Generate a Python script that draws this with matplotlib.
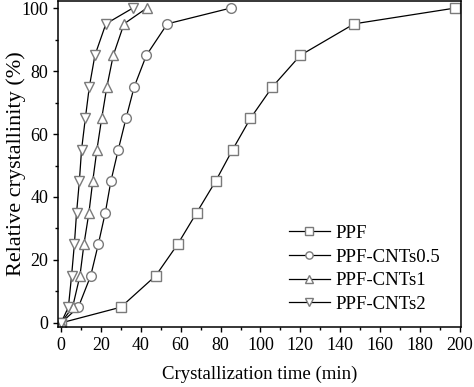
import matplotlib
matplotlib.use('Agg')
import matplotlib.pyplot as plt
from matplotlib.ticker import MultipleLocator

# crystallization data
ppf_t = [0, 30, 47.5, 58.5, 68, 77.5, 86, 95, 106, 120, 147, 197.5]
ppf_x = [0, 5, 15, 25, 35, 45, 55, 65, 75, 85, 95, 100]

cnt05_t = [0, 8.7, 14.9, 18.7, 22.2, 25, 28.7, 32.6, 36.7, 42.8, 53.3, 85]
cnt05_x = [0, 5, 15, 25, 35, 45, 55, 65, 75, 85, 95, 100]

cnt1_t = [0, 5.8, 9.5, 11.5, 14, 15.9, 18, 20.4, 23, 26.2, 31.6, 43]
cnt1_x = [0, 5, 15, 25, 35, 45, 55, 65, 75, 85, 95, 100]

cnt2_t = [0, 3.7, 5.3, 6.7, 7.8, 9.2, 10.3, 12.2, 14.2, 17, 22.5, 36]
cnt2_x = [0, 5, 15, 25, 35, 45, 55, 65, 75, 85, 95, 100]

plt.rcParams['font.family'] = 'Liberation Serif'

fig = plt.figure(figsize=(4.74, 3.87), dpi=100)
ax = fig.add_axes([0.1224, 0.155, 0.850, 0.842])

series = [
    (ppf_t, ppf_x, 's', 'PPF'),
    (cnt05_t, cnt05_x, 'o', 'PPF-CNTs0.5'),
    (cnt1_t, cnt1_x, '^', 'PPF-CNTs1'),
    (cnt2_t, cnt2_x, 'v', 'PPF-CNTs2'),
]
for t, x, m, name in series:
    ax.plot(t, x, color='black', lw=0.9, marker=m, markersize=7,
            markerfacecolor='white', markeredgecolor='#7a7a7a',
            markeredgewidth=1.0, label=name)

ax.set_xlim(-1.5, 200.5)
ax.set_ylim(-1.3, 102.2)
ax.xaxis.set_major_locator(MultipleLocator(20))
ax.xaxis.set_minor_locator(MultipleLocator(10))
ax.yaxis.set_major_locator(MultipleLocator(20))
ax.yaxis.set_minor_locator(MultipleLocator(10))
ax.tick_params(which='both', direction='out', labelsize=13, width=1)
ax.tick_params(which='major', length=3.6)
ax.tick_params(which='minor', length=2.2)
for s in ax.spines.values():
    s.set_linewidth(1.1)

ax.set_xlabel('Crystallization time (min)', fontsize=13.5)
ax.set_ylabel('Relative crystallinity (%)', fontsize=16)
ax.xaxis.set_label_coords(0.5, -0.12)
ax.yaxis.set_label_coords(-0.079, 0.5)

ax.legend(loc='lower right', frameon=False, fontsize=13.5, handlelength=2.2,
          labelspacing=0.35, handletextpad=0.27, markerscale=0.75,
          borderaxespad=0, bbox_to_anchor=(0.966, 0.02))

fig.savefig('out.png', dpi=100)
